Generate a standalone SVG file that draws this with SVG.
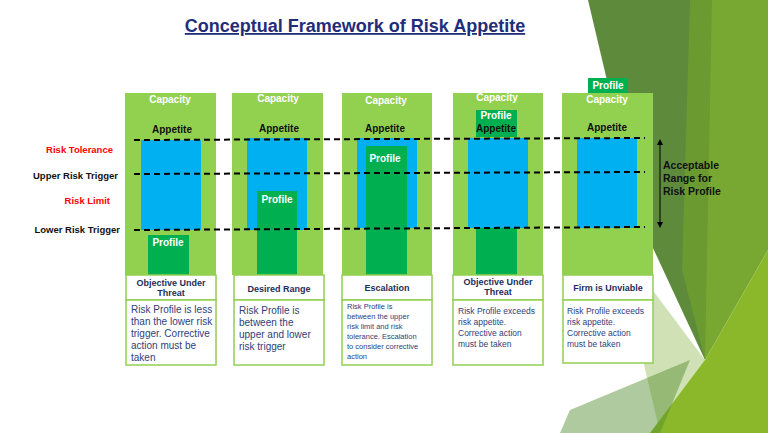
<svg xmlns="http://www.w3.org/2000/svg" width="768" height="433" viewBox="0 0 768 433">
<style>
.cap{fill:#92d050}
.blue{fill:#00b0f0}
.prof{fill:#00b050}
.w{font-family:"Liberation Sans",Arial,sans-serif;font-size:10px;font-weight:bold;fill:#fff;text-anchor:middle}
.k{font-family:"Liberation Sans",Arial,sans-serif;font-size:10px;font-weight:bold;fill:#111;text-anchor:middle}
.lbl{font-family:"Liberation Sans",Arial,sans-serif;font-size:9.5px;font-weight:bold;text-anchor:end}
.hd{font-family:"Liberation Sans",Arial,sans-serif;font-size:9px;font-weight:bold;fill:#1f2d5a;text-anchor:middle}
.ds{font-family:"Liberation Sans",Arial,sans-serif;font-size:10px;fill:#2f3e7a}
.box{fill:#fff;stroke:#92d050;stroke-width:1.5}
.dash{stroke:#000;stroke-width:2;stroke-dasharray:6,4;fill:none}
</style>
<defs>
<marker id="ah" markerWidth="6" markerHeight="6" refX="3" refY="3" orient="auto-start-reverse"><path d="M0,0L6,3L0,6z" fill="#000"/></marker>
</defs>
<rect width="768" height="433" fill="#fff"/>
<g id="background">
<polygon points="588,0 710,0 705,360 640,220" fill="#5e8a3c"/>
<polygon points="700,0 768,0 768,250 705,360" fill="#79a832"/>
<polygon points="690,0 712,0 705,360 682,270" fill="#6a9a30"/>
<polygon points="615,240 705,360 690,433 660,433" fill="#c8dca8" opacity="0.85"/>
<polygon points="650,433 705,360 768,250 768,433" fill="#8ab82a"/>
<polygon points="570,410 690,360 660,433 560,433" fill="#4f8a2a" opacity="0.45"/>
</g>
<text x="355" y="32" font-family="Liberation Sans,Arial,sans-serif" font-size="18" font-weight="bold" fill="#1f2d7a" text-anchor="middle" text-decoration="underline">Conceptual Framework of Risk Appetite</text>
<g id="labels">
<text x="113" y="153" class="lbl" fill="#ff0000">Risk Tolerance</text>
<text x="118" y="179" class="lbl" fill="#111">Upper Risk Trigger</text>
<text x="110" y="204" class="lbl" fill="#ff0000">Risk Limit</text>
<text x="120" y="233" class="lbl" fill="#111">Lower Risk Trigger</text>
</g>
<g id="col1">
<rect x="125" y="93" width="91" height="182" class="cap"/>
<rect x="141" y="140" width="60" height="90" class="blue"/>
<rect x="148" y="235" width="41" height="40" class="prof"/>
<text x="170" y="103" class="w">Capacity</text>
<text x="172" y="133" class="k">Appetite</text>
<text x="168" y="246" class="w">Profile</text>
<rect x="126" y="275" width="90" height="25" class="box"/>
<rect x="126" y="300" width="90" height="65" class="box"/>
<text x="171" y="286" class="hd">Objective Under</text>
<text x="171" y="296" class="hd">Threat</text>
<text class="ds" x="131" y="313">Risk Profile is less<tspan x="131" dy="12">than the lower risk</tspan><tspan x="131" dy="12">trigger. Corrective</tspan><tspan x="131" dy="12">action must be</tspan><tspan x="131" dy="12">taken</tspan></text>
</g>
<g id="col2">
<rect x="232" y="93" width="91" height="182" class="cap"/>
<rect x="247" y="138" width="60" height="92" class="blue"/>
<rect x="257" y="191" width="40" height="84" class="prof"/>
<text x="278" y="102" class="w">Capacity</text>
<text x="279" y="132" class="k">Appetite</text>
<text x="277" y="203" class="w">Profile</text>
<rect x="234" y="275" width="90" height="25" class="box"/>
<rect x="234" y="300" width="90" height="65" class="box"/>
<text x="279" y="292" class="hd">Desired Range</text>
<text class="ds" x="239" y="314">Risk Profile is<tspan x="239" dy="12">between the</tspan><tspan x="239" dy="12">upper and lower</tspan><tspan x="239" dy="12">risk trigger</tspan></text>
</g>
<g id="col3">
<rect x="342" y="93" width="90" height="182" class="cap"/>
<rect x="357" y="138" width="60" height="90" class="blue"/>
<rect x="366" y="146" width="41" height="129" class="prof"/>
<text x="386" y="104" class="w">Capacity</text>
<text x="385" y="132" class="k">Appetite</text>
<text x="385" y="162" class="w">Profile</text>
<rect x="342" y="275" width="90" height="25" class="box"/>
<rect x="342" y="300" width="90" height="65" class="box"/>
<text x="387" y="291" class="hd">Escalation</text>
<text class="ds" x="347" y="309" style="font-size:7.5px">Risk Profile is<tspan x="347" dy="10">between the upper</tspan><tspan x="347" dy="10">risk limit and risk</tspan><tspan x="347" dy="10">tolerance. Escalation</tspan><tspan x="347" dy="10">to consider corrective</tspan><tspan x="347" dy="10">action</tspan></text>
</g>
<g id="col4">
<rect x="453" y="93" width="90" height="182" class="cap"/>
<rect x="468" y="138" width="60" height="90" class="blue"/>
<rect x="476" y="110" width="41" height="27" class="prof"/>
<rect x="476" y="228" width="41" height="47" class="prof"/>
<text x="497" y="101" class="w">Capacity</text>
<text x="496" y="119" class="w">Profile</text>
<text x="496" y="132" class="k">Appetite</text>
<rect x="453" y="275" width="90" height="25" class="box"/>
<rect x="453" y="300" width="90" height="65" class="box"/>
<text x="498" y="285" class="hd">Objective Under</text>
<text x="498" y="295" class="hd">Threat</text>
<text class="ds" x="458" y="314" style="font-size:8.5px">Risk Profile exceeds<tspan x="458" dy="11">risk appetite.</tspan><tspan x="458" dy="11">Corrective action</tspan><tspan x="458" dy="11">must be taken</tspan></text>
</g>
<g id="col5">
<rect x="562" y="93" width="91" height="182" class="cap"/>
<rect x="588" y="78" width="40" height="15" class="prof"/>
<rect x="577" y="138" width="60" height="90" class="blue"/>
<text x="608" y="89" class="w">Profile</text>
<text x="607" y="103" class="w">Capacity</text>
<text x="607" y="131" class="k">Appetite</text>
<rect x="563" y="275" width="90" height="25" class="box"/>
<rect x="563" y="300" width="90" height="63" class="box"/>
<text x="608" y="291" class="hd">Firm is Unviable</text>
<text class="ds" x="567" y="314" style="font-size:8.5px">Risk Profile exceeds<tspan x="567" dy="11">risk appetite.</tspan><tspan x="567" dy="11">Corrective action</tspan><tspan x="567" dy="11">must be taken</tspan></text>
</g>
<g id="connectors">
<line x1="134" y1="140" x2="645" y2="138" class="dash"/>
<line x1="134" y1="174" x2="645" y2="172" class="dash"/>
<line x1="134" y1="230" x2="645" y2="227" class="dash"/>
<line x1="660" y1="142" x2="660" y2="225" stroke="#000" stroke-width="1" marker-start="url(#ah)" marker-end="url(#ah)"/>
</g>
<g id="range">
<text x="663" y="169" font-family="Liberation Sans,Arial,sans-serif" font-size="10.5" font-weight="bold" fill="#111">Acceptable<tspan x="663" dy="13">Range for</tspan><tspan x="663" dy="13">Risk Profile</tspan></text>
</g>
</svg>
